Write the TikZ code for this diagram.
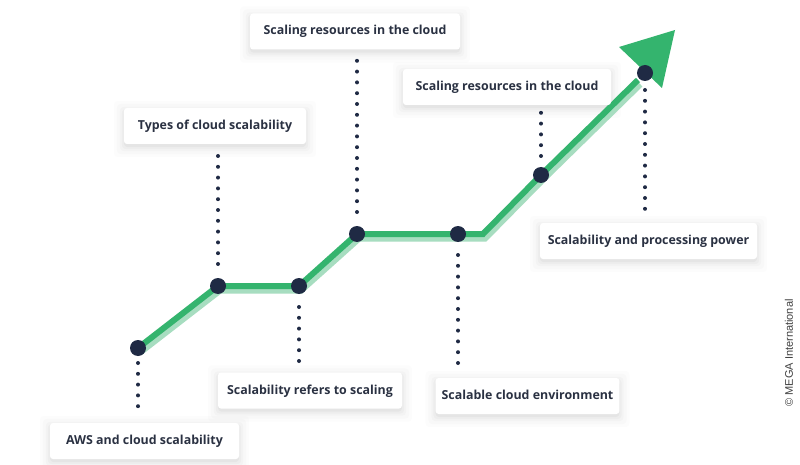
\documentclass[tikz,border=0pt]{standalone}
\usepackage{fontspec}
\setmainfont{Open Sans}
\newfontfamily\cfont{Liberation Sans}
\usetikzlibrary{calc}
\definecolor{mgreen}{HTML}{34B46E}
\definecolor{sgreen}{HTML}{A7DDC0}
\definecolor{navy}{HTML}{1F2A44}
\definecolor{txt}{HTML}{2A3142}
\pgfdeclarelayer{bg}
\pgfdeclarelayer{shadowlayer}
\pgfdeclarelayer{lines}
\pgfsetlayers{bg,shadowlayer,lines,main}
\newcommand\softshadow[1]{%
  \foreach \k/\o in {0/0.03,2/0.025,4/0.02,7/0.015,10/0.01}{%
    \fill[black,opacity=\o,rounded corners=4pt]
      ([shift={(-\k pt,-\k pt-3pt)}]#1.south west) rectangle
      ([shift={(\k pt,\k pt-3pt)}]#1.north east);
  }}
\begin{document}
\begin{tikzpicture}[x=1pt,y=-1pt,
  labelbox/.style={fill=white, rounded corners=3pt, inner xsep=6pt, inner ysep=0pt,
    minimum height=36pt, text height=10pt, text depth=3pt, text=txt,
    font=\bfseries\fontsize{12.4}{15}\selectfont},
  dotnode/.style={circle, fill=navy, minimum size=16pt, inner sep=0pt, outer sep=0pt},
  dotline/.style={navy, line width=4pt, line cap=round, dash pattern=on 0pt off 10.8pt},
  mainline/.style={mgreen, line width=6pt, line join=miter},
  shadowline/.style={sgreen, line width=7pt, line join=miter},
]
\useasboundingbox (0,0) rectangle (800,465);
\begin{pgfonlayer}{bg}
  \fill[white] (0,0) rectangle (800,465);
\end{pgfonlayer}

% labels
\node[labelbox, minimum width=189pt] (aws)  at (144.5,441) {AWS and cloud scalability};
\node[labelbox, minimum width=182pt] (types) at (215,126) {Types of cloud scalability};
\node[labelbox, minimum width=184pt] (refers) at (310,390.5) {Scalability refers to scaling};
\node[labelbox, minimum width=210pt] (scaleA) at (355,31.5) {Scaling resources in the cloud};
\node[labelbox, minimum width=208pt] (scaleB) at (507,87) {Scaling resources in the cloud};
\node[labelbox, minimum width=182pt] (env) at (527.5,396) {Scalable cloud environment};
\node[labelbox, minimum width=217pt] (power) at (648.5,241) {Scalability and processing power};

% points
\node[dotnode] (d1) at (138,348) {};
\node[dotnode] (d2) at (218,286) {};
\node[dotnode] (d3) at (299,286) {};
\node[dotnode] (d4) at (357,234) {};
\node[dotnode] (d5) at (458,234) {};
\node[dotnode] (d6) at (541,175) {};
\node[dotnode] (d7) at (645,73) {};
\coordinate (bend) at (483,234);
\coordinate (tipbase) at (638,80);
\coordinate (tip) at (675,30);
\coordinate (wl) at (619,47);
\coordinate (wr) at (662,88);

\begin{pgfonlayer}{shadowlayer}
  \softshadow{aws}\softshadow{types}\softshadow{refers}\softshadow{scaleA}
  \softshadow{scaleB}\softshadow{env}\softshadow{power}
\end{pgfonlayer}

\begin{pgfonlayer}{lines}
  \begin{scope}[transform canvas={shift={(2pt,-4pt)}}]
    \draw[shadowline] (d1.center) -- (d2.center) -- (d3.center) -- (d4.center)
      -- (bend) -- (d6.center) -- (tipbase);
  \end{scope}
  \draw[mainline] (d1.center) -- (d2.center) -- (d3.center) -- (d4.center)
    -- (bend) -- (d6.center) -- (tipbase);
  \fill[mgreen] (tip) -- (wl) -- (wr) -- cycle;
  % dotted connectors
  \draw[dotline, shorten <=7pt, shorten >=6pt] (d1) -- (d1 |- aws.north);
  \draw[dotline, shorten <=14pt, shorten >=8pt] (d2) -- (d2 |- types.south);
  \draw[dotline, shorten <=13pt, shorten >=11pt] (d3) -- (d3 |- refers.north);
  \draw[dotline, shorten <=14pt, shorten >=7pt] (d4) -- (d4 |- scaleA.south);
  \draw[dotline, shorten <=13pt, shorten >=12pt] (d5) -- (d5 |- env.north);
  \draw[dotline, shorten <=11pt, shorten >=7pt] (d6) -- (d6 |- scaleB.south);
  \draw[dotline, shorten <=9pt, shorten >=12pt] (d7) -- (d7 |- power.north);
\end{pgfonlayer}

\node[rotate=90, text=black!75, font=\cfont\fontsize{11}{12}\selectfont] (copy) at (789,353) {© MEGA International};
\end{tikzpicture}
\end{document}
